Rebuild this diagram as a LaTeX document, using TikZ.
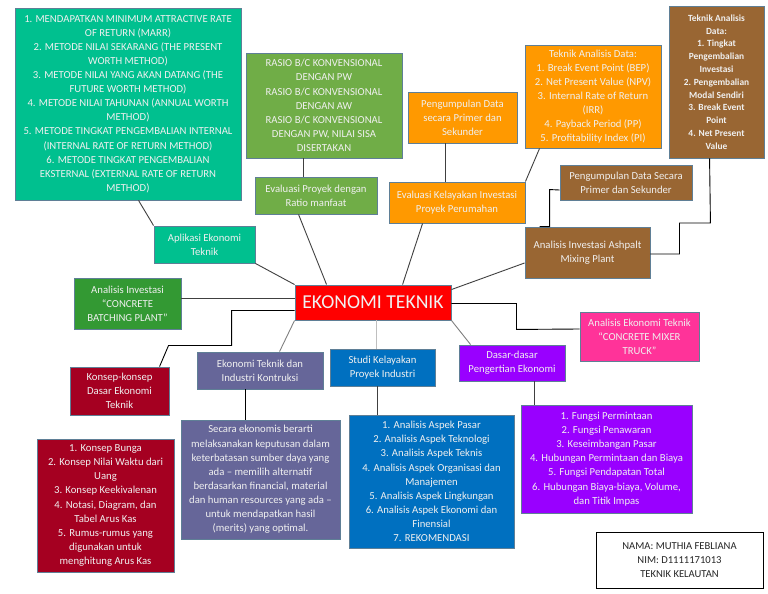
\documentclass[tikz,border=0pt]{standalone}
\usepackage{fontspec}
\setmainfont{Carlito}
\definecolor{cTeal}{HTML}{00C08F}
\definecolor{cOlive}{HTML}{70AD47}
\definecolor{cOrange}{HTML}{FF9900}
\definecolor{cBrown}{HTML}{996633}
\definecolor{cDkGreen}{HTML}{339933}
\definecolor{cCrimson}{HTML}{A50021}
\definecolor{cSlate}{HTML}{666699}
\definecolor{cBlue}{HTML}{0070C0}
\definecolor{cPurple}{HTML}{9900FF}
\definecolor{cPink}{HTML}{FF3399}
\definecolor{cEdge}{HTML}{5F7F96}
\definecolor{cLine}{HTML}{404040}
\tikzset{
  bx/.style={draw=cEdge,line width=0.9pt,inner sep=0pt,align=center,text=white!94!black,
    font=\fontsize{10.7}{14.1}\selectfont},
  con/.style={draw=cLine,line width=0.9pt},
  conk/.style={draw=black,line width=0.9pt},
  cong/.style={draw=gray,line width=0.9pt},
  conl/.style={draw=black!25,line width=1pt},
}
\newcommand{\bxn}[7]{% name, color, x0,y0,x1,y1, text
  \node[bx,fill=#2,minimum width={(#5)-(#3)},minimum height={(#6)-(#4)}] (#1) at ({((#3)+(#5))/2},{((#4)+(#6))/2}) {#7};}
\begin{document}
\begin{tikzpicture}[x=1pt,y=-1pt]
\fill[white] (0,0) rectangle (768,594);
\useasboundingbox (0,0) rectangle (768,594);
\bxn{tealBig}{cTeal}{15}{8}{241}{200}{1. MENDAPATKAN MINIMUM ATTRACTIVE RATE\\OF RETURN (MARR)\\2. METODE NILAI SEKARANG (THE PRESENT\\WORTH METHOD)\\3. METODE NILAI YANG AKAN DATANG (THE\\FUTURE WORTH METHOD)\\4. METODE NILAI TAHUNAN (ANNUAL WORTH\\METHOD)\\5. METODE TINGKAT PENGEMBALIAN INTERNAL\\(INTERNAL RATE OF RETURN METHOD)\\6. METODE TINGKAT PENGEMBALIAN\\EKSTERNAL (EXTERNAL RATE OF RETURN\\METHOD)}
\bxn{aplikasi}{cTeal}{154}{226}{255}{263}{Aplikasi Ekonomi\\Teknik}
\bxn{rasio}{cOlive}{246}{53}{402}{158}{RASIO B/C KONVENSIONAL\\DENGAN PW\\RASIO B/C KONVENSIONAL\\DENGAN AW\\RASIO B/C KONVENSIONAL\\DENGAN PW, NILAI SISA\\DISERTAKAN}
\bxn{evalRatio}{cOlive}{255}{177}{377}{214}{Evaluasi Proyek dengan\\Ratio manfaat}
\bxn{evalOrange}{cOrange}{389}{182}{525}{223}{Evaluasi Kelayakan Investasi\\Proyek Perumahan}
\bxn{kumpulOrange}{cOrange}{408}{92}{517}{143}{Pengumpulan Data\\secara Primer dan\\Sekunder}
\bxn{teknikOrange}{cOrange}{525}{45}{661}{148}{Teknik Analisis Data:\\1. Break Event Point (BEP)\\2. Net Present Value (NPV)\\3. Internal Rate of Return\\(IRR)\\4. Payback Period (PP)\\5. Profitability Index (PI)}
\bxn{teknikBrown}{cBrown,font=\fontsize{9.4}{12.8}\selectfont\bfseries}{669}{6}{764}{158}{Teknik Analisis\\Data:\\1. Tingkat\\Pengembalian\\Investasi\\2. Pengembalian\\Modal Sendiri\\3. Break Event\\Point\\4. Net Present\\Value}
\bxn{kumpulBrown}{cBrown}{560}{165}{692}{200}{Pengumpulan Data Secara\\Primer dan Sekunder}
\bxn{ashpalt}{cBrown}{525}{227}{650}{278}{Analisis Investasi Ashpalt\\Mixing Plant}
\bxn{pusat}{red,font=\fontsize{19.7}{22}\selectfont}{295}{285}{451}{320}{EKONOMI TEKNIK}
\bxn{batching}{cDkGreen}{74}{278}{181}{329}{Analisis Investasi\\“CONCRETE\\BATCHING PLANT”}
\bxn{konsep}{cCrimson}{70}{367}{169}{415}{Konsep-konsep\\Dasar Ekonomi\\Teknik}
\bxn{konsepList}{cCrimson}{37}{439}{174}{572}{1. Konsep Bunga\\2. Konsep Nilai Waktu dari\\Uang\\3. Konsep Keekivalenan\\4. Notasi, Diagram, dan\\Tabel Arus Kas\\5. Rumus-rumus yang\\digunakan untuk\\menghitung Arus Kas}
\bxn{industri}{cSlate}{197}{352}{323}{389}{Ekonomi Teknik dan\\Industri Kontruksi}
\bxn{secara}{cSlate}{181}{420}{340}{539}{Secara ekonomis berarti\\melaksanakan keputusan dalam\\keterbatasan sumber daya yang\\ada – memilih alternatif\\berdasarkan financial, material\\dan human resources yang ada –\\untuk mendapatkan hasil\\(merits) yang optimal.}
\bxn{studi}{cBlue}{330}{349}{435}{386}{Studi Kelayakan\\Proyek Industri}
\bxn{studiList}{cBlue}{349}{415}{514}{548}{1. Analisis Aspek Pasar\\2. Analisis Aspek Teknologi\\3. Analisis Aspek Teknis\\4. Analisis Aspek Organisasi dan\\Manajemen\\5. Analisis Aspek Lingkungan\\6. Analisis Aspek Ekonomi dan\\Finensial\\7. REKOMENDASI}
\bxn{dasar}{cPurple}{459}{345}{565}{381}{Dasar-dasar\\Pengertian Ekonomi}
\bxn{fungsi}{cPurple}{521}{405}{692}{513}{1. Fungsi Permintaan\\2. Fungsi Penawaran\\3. Keseimbangan Pasar\\4. Hubungan Permintaan dan Biaya\\5. Fungsi Pendapatan Total\\6. Hubungan Biaya-biaya, Volume,\\dan Titik Impas}
\bxn{mixer}{cPink}{580}{312}{699}{361}{Analisis Ekonomi Teknik\\“CONCRETE MIXER\\TRUCK”}
\node[draw=black,fill=white,text=black!85,line width=0.9pt,inner sep=0pt,align=center,minimum width=167pt,minimum height=56pt,font=\fontsize{10.6}{14.1}\selectfont] (nama) at (679.5,560) {NAMA: MUTHIA FEBLIANA\\NIM: D1111171013\\TEKNIK KELAUTAN};
% connectors
\draw[con] ([xshift=124pt]tealBig.south west) -- (aplikasi.north west);
\draw[con] (aplikasi.south east) -- (pusat.north west);
\draw[con] ([xshift=58pt]rasio.south west) -- ([xshift=49pt]evalRatio.north west);
\draw[con] ([xshift=44pt]evalRatio.south west) -- ([xshift=32pt]pusat.north west);
\draw[con] ([yshift=5.5pt]batching.east) -- ([yshift=4.5pt]pusat.west);
\draw[conk] ([yshift=10pt]pusat.south west) -- ++(-63,0) -- ++(0,35) -- ++(-63,0) -- ([xshift=90pt]konsep.north west);
\draw[cong] (pusat.south west) -- ([xshift=83pt]industri.north west);
\draw[conk] ([xshift=49pt]industri.south west) -- ([xshift=65pt]secara.north west);
\draw[conl] ([xshift=82pt]pusat.south west) -- ([xshift=47pt]studi.north west);
\draw[con] ([xshift=48pt]studi.south west) -- ([xshift=29pt]studiList.north west);
\draw[cong] (pusat.south east) -- ([xshift=12pt]dasar.north west);
\draw[con] ([xshift=76pt]dasar.south west) -- ([xshift=14pt]fungsi.north west);
\draw[conk] ([yshift=17pt]pusat.south east) -- ++(65,0) -- ++(0,26) -- ([yshift=7.5pt]mixer.west);
\draw[con] ([xshift=108pt]pusat.north west) -- ([xshift=34pt]evalOrange.south west);
\draw[con] ([yshift=-5pt]pusat.north east) -- ([yshift=-10.5pt]ashpalt.west);
\draw[con] ([xshift=57pt]evalOrange.north west) -- ([xshift=38pt]kumpulOrange.south west);
\draw[con] (evalOrange.north east) -- ([xshift=15pt]teknikOrange.south west);
\draw[conk] ([xshift=15pt]ashpalt.north west) -- ++(10,0) -- ++(0,-37) -- ([yshift=-7.5pt]kumpulBrown.west);
\draw[conk] ([yshift=-1.5pt]ashpalt.east) -- ++(29,0) -- ++(0,-31) -- ++(31,0) -- ([xshift=41pt]teknikBrown.south west);
\end{tikzpicture}
\end{document}
